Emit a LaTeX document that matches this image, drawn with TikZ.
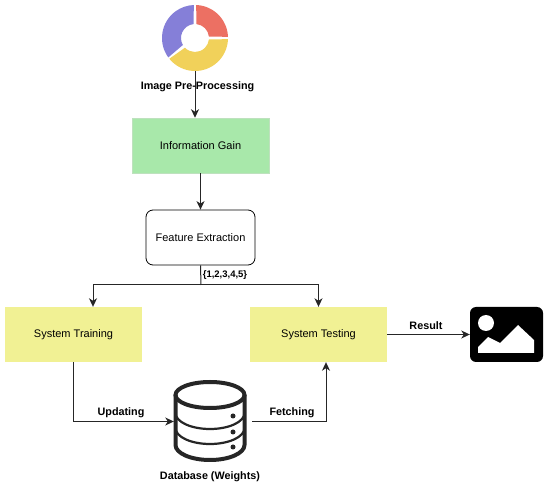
\documentclass[tikz,border=0pt]{standalone}
\usepackage{fontspec}
\setmainfont{Liberation Sans}
\usetikzlibrary{arrows.meta, positioning, calc}
\definecolor{GainGreen}{RGB}{168, 232, 170}
\definecolor{SysYellow}{RGB}{241, 241, 148}
\definecolor{BoxBorder}{RGB}{190, 225, 190}
\definecolor{PieRed}{RGB}{236, 112, 99}
\definecolor{PieYellow}{RGB}{241, 209, 90}
\definecolor{PiePurple}{RGB}{133, 127, 216}
\definecolor{IconDark}{RGB}{38, 38, 38}
\tikzset{
  flowbox/.style={minimum width=137pt, minimum height=55pt, inner sep=0pt, font=\fontsize{11}{13}\selectfont},
  flowline/.style={draw=IconDark, line width=1pt, -{Stealth[length=8.5pt,width=8pt,inset=2.5pt]}},
  flowlabel/.style={inner sep=0pt, font=\fontsize{10.8}{12}\selectfont\bfseries},
}

\begin{document}
\begin{tikzpicture}[x=1pt, y=-1pt]
    \useasboundingbox (0,0) rectangle (550,489);
    \fill[white] (0,0) rectangle (550,489);

    % pie icon
    \coordinate (pie) at (195,38);
    \fill[PieRed] ($(pie)+(-88:33)$) arc (-88:-2:33) -- ($(pie)+(-6:14)$) arc (-6:-84:14) -- cycle;
    \fill[PieYellow] ($(pie)+(2:33)$) arc (2:141:33) -- ($(pie)+(136:14)$) arc (136:6:14) -- cycle;
    \fill[PiePurple] ($(pie)+(144:33)$) arc (144:268:33) -- ($(pie)+(264:14)$) arc (264:150:14) -- cycle;
    \coordinate (piebottom) at (195,71);

    % boxes
    \node[flowbox, fill=GainGreen, draw=BoxBorder, line width=0.5pt] (gain) at (200.5,145.5) {Information Gain};
    \node[flowbox, draw=black, line width=0.8pt, fill=white, rounded corners=7pt, minimum width=109pt] (feature) at (200.5,237.5) {Feature Extraction};
    \node[flowbox, fill=SysYellow] (training) at (73.5,334.5) {System Training};
    \node[flowbox, fill=SysYellow] (testing) at (318.5,334.5) {System Testing};

    % result icon
    \node[fill=black, rounded corners=6pt, minimum width=73pt, minimum height=55pt, inner sep=0pt] (result) at (506.5,334.5) {};
    \fill[white] (486,323) circle (8pt);
    \fill[white] (478,353) -- (478,347) -- (488,337) -- (500,343) -- (518,325) -- (534,340) -- (534,353) -- cycle;

    % database icon
    \node[minimum width=72pt, minimum height=83pt, inner sep=0pt] (database) at (210,421.5) {};
    \begin{scope}[IconDark, line width=4pt]
      \draw (175.5,395) -- (175.5,445) arc (180:0:34.5 and 15) -- (244.5,395);
      \draw (210,395) ellipse (34.5 and 13);
    \end{scope}
    \begin{scope}[IconDark, line width=2.2pt]
      \draw (175.5,413) arc (180:0:34.5 and 16);
      \draw (175.5,428) arc (180:0:34.5 and 16);
    \end{scope}
    \fill[IconDark] (233,416) circle (2.5pt) (233,432) circle (2.5pt) (233,447) circle (2.5pt);

    % connectors
    \draw[flowline] (piebottom) -- (piebottom |- gain.north);
    \draw[flowline] (gain) -- (feature);
    \coordinate (split) at (201,285);
    \draw[draw=IconDark, line width=1pt] (feature.south) -- (split);
    \draw[flowline] (split) -| ([xshift=19.5pt]training.north);
    \draw[flowline] (split) -| (testing.north);
    \draw[flowline] (training.south) |- (database.west);
    \coordinate (dbout) at (252,422);
    \draw[flowline] (dbout) -| ([xshift=7.5pt]testing.south);
    \draw[flowline] (testing.east) -- (result.west);

    % labels
    \node[flowlabel] (prelabel) at (197.5,87) {Image Pre-Processing};
    \node[flowlabel, font=\fontsize{9.5}{11}\selectfont\bfseries] (splitlabel) at (225,275) {\{1,2,3,4,5\}};
    \node[flowlabel] (updating) at (121,412.5) {Updating};
    \node[flowlabel] (fetching) at (292,412.5) {Fetching};
    \node[flowlabel] (resultlabel) at (426,326) {Result};
    \node[flowlabel] (dblabel) at (210,477) {Database (Weights)};
\end{tikzpicture}
\end{document}
